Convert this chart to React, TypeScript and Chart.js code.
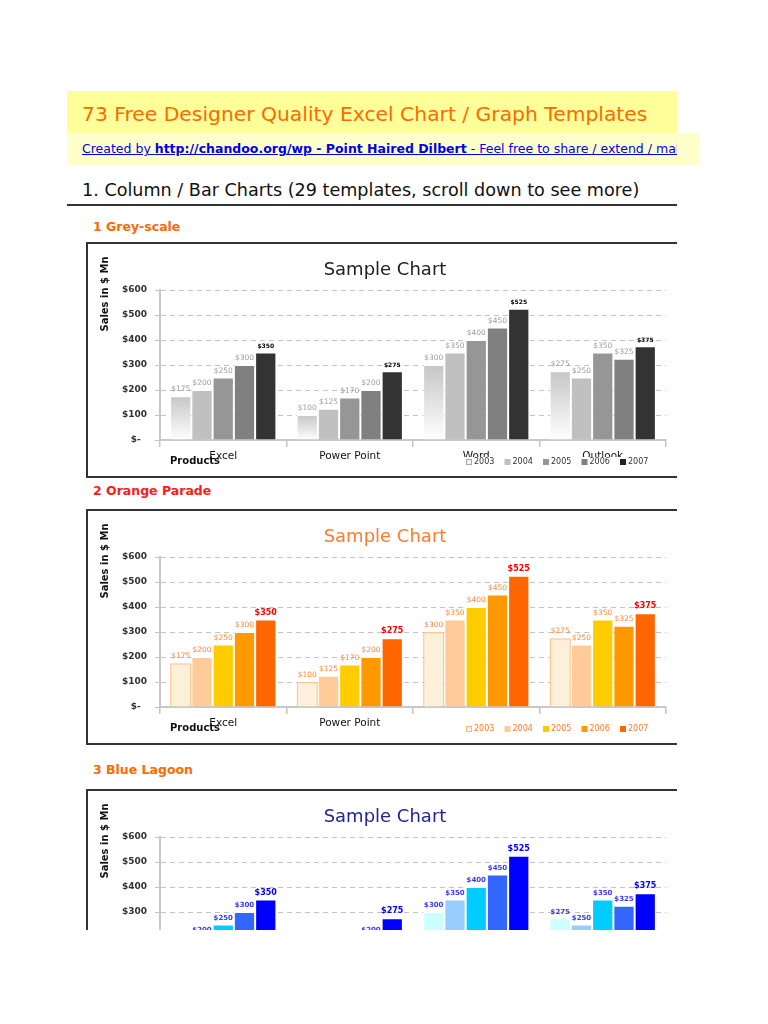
import React, { useEffect, useRef } from "react";
import { Chart, registerables } from "chart.js";

Chart.register(...registerables);

const FONT = "'DejaVu Sans', Verdana, sans-serif";

// ---- data ----
const products = ["Excel", "Power Point", "Word", "Outlook"];
const years = ["2003", "2004", "2005", "2006", "2007"];
const sales2003 = [175, 100, 300, 275];
const sales2004 = [200, 125, 350, 250];
const sales2005 = [250, 170, 400, 350];
const sales2006 = [300, 200, 450, 325];
const sales2007 = [350, 275, 525, 375];
const seriesValues = [sales2003, sales2004, sales2005, sales2006, sales2007];
const yTickValues = [0, 100, 200, 300, 400, 500, 600];
const yTickLabels = ["$-  ", "$100", "$200", "$300", "$400", "$500", "$600"];
const chartTitle = "Sample Chart";
const yAxisTitle = "Sales in $ Mn";
const xAxisTitle = "Products";

// ---- styles ----
type Theme = {
  titleColor: string;
  fills: string[];
  borders: string[];
  borderWidths: number[];
  labelColors: string[];
  labelFont: string;
  lastLabelFont: string;
  legendText: string;
  markerFill: string[];
  markerStroke: (string | null)[];
  legendBoxTop: number;
};

const greyTheme: Theme = {
  titleColor: "#222222",
  fills: ["gradient", "#c0c0c0", "#969696", "#808080", "#333333"],
  borders: ["#ffffff", "#ffffff", "#ffffff", "#ffffff", "#ffffff"],
  borderWidths: [1, 1, 1, 1, 1],
  labelColors: ["#9c9c9c", "#9c9c9c", "#9c9c9c", "#9c9c9c", "#000000"],
  labelFont: `7.5px ${FONT}`,
  lastLabelFont: `bold 6px ${FONT}`,
  legendText: "#333333",
  markerFill: ["#f2f2f2", "#c0c0c0", "#969696", "#808080", "#222222"],
  markerStroke: ["#a8a8a8", null, null, null, null],
  legendBoxTop: 213,
};

const orangeTheme: Theme = {
  titleColor: "#ff7b2e",
  fills: ["#fdf0da", "#ffcc99", "#ffcc00", "#ff9900", "#ff6600"],
  borders: ["#fcc68c", "#ffffff", "#ffffff", "#ffffff", "#ffffff"],
  borderWidths: [1.5, 1, 1, 1, 1],
  labelColors: ["#ff8a3d", "#ff8a3d", "#ff8a3d", "#ff8a3d", "#ff0000"],
  labelFont: `7.5px ${FONT}`,
  lastLabelFont: `bold 8px ${FONT}`,
  legendText: "#ff7b2e",
  markerFill: ["#fff8ee", "#ffcc99", "#ffcc00", "#ff9900", "#ff6600"],
  markerStroke: ["#ffb56b", null, null, null, null],
  legendBoxTop: 204,
};

const blueTheme: Theme = {
  titleColor: "#242494",
  fills: ["#ccffff", "#99ccff", "#00ccff", "#3366ff", "#0000ff"],
  borders: ["#ffffff", "#ffffff", "#ffffff", "#ffffff", "#ffffff"],
  borderWidths: [1, 1, 1, 1, 1],
  labelColors: ["#3a3aff", "#3a3aff", "#3a3aff", "#3a3aff", "#0000ff"],
  labelFont: `bold 7px ${FONT}`,
  lastLabelFont: `bold 8px ${FONT}`,
  legendText: "#2424c0",
  markerFill: ["#ccffff", "#99ccff", "#00ccff", "#3366ff", "#0000ff"],
  markerStroke: ["#99dddd", null, null, null, null],
  legendBoxTop: 204,
};

const CANVAS_W = 600;
const CANVAS_H = 232;

function makePlugin(theme: Theme) {
  return {
    id: "decor",
    afterDatasetsDraw(chart: any) {
      const ctx = chart.ctx;
      chart.data.datasets.forEach((ds: any, i: number) => {
        const meta = chart.getDatasetMeta(i);
        const last = i === chart.data.datasets.length - 1;
        ctx.save();
        ctx.font = last ? theme.lastLabelFont : theme.labelFont;
        ctx.fillStyle = theme.labelColors[i];
        ctx.textAlign = "center";
        ctx.textBaseline = "bottom";
        meta.data.forEach((bar: any, j: number) => {
          ctx.fillText("$" + ds.data[j], bar.x, bar.y - 3);
        });
        ctx.restore();
      });
    },
    afterDraw(chart: any) {
      const ctx = chart.ctx;
      ctx.save();
      // y axis title
      ctx.translate(17, 50);
      ctx.rotate(-Math.PI / 2);
      ctx.font = `bold 10px ${FONT}`;
      ctx.fillStyle = "#111111";
      ctx.textAlign = "center";
      ctx.textBaseline = "middle";
      ctx.fillText(yAxisTitle, 0, 0);
      ctx.restore();

      // x axis title
      ctx.save();
      ctx.font = `bold 10px ${FONT}`;
      ctx.fillStyle = "#111111";
      ctx.textAlign = "left";
      ctx.textBaseline = "middle";
      ctx.fillText(xAxisTitle, 82, 217);
      ctx.restore();

      // legend
      ctx.save();
      ctx.fillStyle = "#ffffff";
      ctx.fillRect(368, theme.legendBoxTop, 215, CANVAS_H - theme.legendBoxTop - 1);
      const ly = 218;
      chart.data.datasets.forEach((ds: any, i: number) => {
        const mx = 378 + i * 38.5;
        ctx.fillStyle = theme.markerFill[i];
        ctx.fillRect(mx, ly - 3, 6, 6);
        const st = theme.markerStroke[i];
        if (st) {
          ctx.strokeStyle = st;
          ctx.lineWidth = 1;
          ctx.strokeRect(mx + 0.5, ly - 2.5, 5, 5);
        }
        ctx.font = `8px ${FONT}`;
        ctx.fillStyle = theme.legendText;
        ctx.textAlign = "left";
        ctx.textBaseline = "middle";
        ctx.fillText(ds.label, mx + 8, ly);
      });
      ctx.restore();
    },
  };
}

function SampleChart({ theme }: { theme: Theme }) {
  const ref = useRef<HTMLCanvasElement | null>(null);
  useEffect(() => {
    if (!ref.current) return;
    const datasets = years.map((yr, i) => ({
      label: yr,
      data: seriesValues[i],
      backgroundColor:
        theme.fills[i] === "gradient"
          ? (c: any) => {
              const chart = c.chart;
              if (!chart.chartArea || c.dataIndex === undefined) return "#e0e0e0";
              const ys = chart.scales.y;
              const v = c.dataset.data[c.dataIndex];
              const top = ys.getPixelForValue(v);
              const bottom = ys.getPixelForValue(0);
              const g = chart.ctx.createLinearGradient(0, top, 0, bottom);
              g.addColorStop(0, "#c6c6c6");
              g.addColorStop(1, "#ffffff");
              return g;
            }
          : theme.fills[i],
      borderColor: theme.borders[i],
      borderWidth: theme.borderWidths[i],
      categoryPercentage: 0.84,
      barPercentage: 1,
    }));
    const chart = new Chart(ref.current, {
      type: "bar",
      data: { labels: products, datasets },
      options: {
        responsive: false,
        animation: false,
        devicePixelRatio: 1,
        layout: { padding: { left: 16, right: 22, top: 0, bottom: 0 } },
        plugins: {
          legend: { display: false },
          tooltip: { enabled: false },
          title: {
            display: true,
            text: chartTitle,
            color: theme.titleColor,
            font: { family: FONT, size: 18, weight: "normal" },
            padding: { top: 16, bottom: 8.4 },
          },
        },
        scales: {
          x: {
            afterFit: (s: any) => {
              s.height = 36;
            },
            ticks: {
              font: { family: FONT, size: 10.5 },
              color: "#111111",
              padding: 3,
              maxRotation: 0,
              autoSkip: false,
            },
            grid: {
              display: true,
              drawOnChartArea: false,
              offset: true,
              tickLength: 7,
              color: "#c4c4c4",
              lineWidth: 1.5,
            },
            border: { display: true, color: "#c8c8c8", width: 2 },
          },
          y: {
            min: 0,
            max: 600,
            afterFit: (s: any) => {
              s.width = 56;
            },
            afterBuildTicks: (s: any) => {
              s.ticks = yTickValues.map((v) => ({ value: v }));
            },
            ticks: {
              callback: (_v: any, i: number) => yTickLabels[i],
              font: { family: FONT, size: 9, weight: "bold" },
              color: "#333333",
              padding: 8,
            },
            grid: {
              color: "#c4c4c4",
              lineWidth: 1,
              tickLength: 5,
              tickColor: "#c4c4c4",
            },
            border: { display: true, color: "#c8c8c8", width: 2, dash: [5, 4] },
          },
        },
      } as any,
      plugins: [makePlugin(theme) as any],
    });
    return () => chart.destroy();
  }, [theme]);
  return <canvas ref={ref} width={CANVAS_W} height={CANVAS_H} style={{ display: "block" }} />;
}

function ChartBox({ top, clipHeight, theme }: { top: number; clipHeight: number; theme: Theme }) {
  return (
    <div
      style={{
        position: "absolute",
        left: 86,
        top,
        width: 677 - 86,
        height: clipHeight,
        overflow: "hidden",
      }}
    >
      <div
        style={{
          position: "absolute",
          left: 0,
          top: 0,
          width: 660,
          height: 236,
          boxSizing: "border-box",
          border: "2px solid #333333",
          background: "#ffffff",
        }}
      >
        <SampleChart theme={theme} />
      </div>
    </div>
  );
}

function SectionLabel({ top, text, color }: { top: number; text: string; color: string }) {
  return (
    <div
      style={{
        position: "absolute",
        left: 93,
        top,
        fontFamily: FONT,
        fontWeight: "bold",
        fontSize: 12.5,
        lineHeight: "14px",
        color,
        whiteSpace: "nowrap",
      }}
    >
      {text}
    </div>
  );
}

export default function App() {
  return (
    <div
      style={{
        position: "fixed",
        left: 0,
        top: 0,
        width: 768,
        height: 1024,
        overflow: "hidden",
        background: "#ffffff",
        fontFamily: FONT,
      }}
    >
      <div style={{ position: "absolute", left: 67, top: 91, width: 610, height: 42, background: "#ffff99" }} />
      <div
        style={{
          position: "absolute",
          left: 82,
          top: 102,
          fontSize: 20.3,
          lineHeight: "24px",
          color: "#ff6a00",
          whiteSpace: "nowrap",
        }}
      >
        73 Free Designer Quality Excel Chart / Graph Templates
      </div>
      <div style={{ position: "absolute", left: 67, top: 133, width: 633, height: 32, background: "#ffffcc" }} />
      <div
        style={{
          position: "absolute",
          left: 82,
          top: 141,
          width: 677 - 82,
          overflow: "hidden",
          fontSize: 12.5,
          lineHeight: "16px",
          color: "#0000ee",
          whiteSpace: "nowrap",
          textDecoration: "underline",
        }}
      >
        Created by <b>http://chandoo.org/wp - Point Haired Dilbert</b> - Feel free to share / extend / make derivatives
      </div>
      <div
        style={{
          position: "absolute",
          left: 82,
          top: 179,
          fontSize: 17.6,
          lineHeight: "22px",
          color: "#111111",
          whiteSpace: "nowrap",
        }}
      >
        1. Column / Bar Charts (29 templates, scroll down to see more)
      </div>
      <div style={{ position: "absolute", left: 67, top: 204, width: 610, height: 2, background: "#333333" }} />

      <SectionLabel top={220} text="1 Grey-scale" color="#ff6a00" />
      <ChartBox top={242} clipHeight={236} theme={greyTheme} />

      <SectionLabel top={484} text="2 Orange Parade" color="#ff1a1a" />
      <ChartBox top={509} clipHeight={236} theme={orangeTheme} />

      <SectionLabel top={763} text="3 Blue Lagoon" color="#ff6a00" />
      <ChartBox top={789} clipHeight={141} theme={blueTheme} />
    </div>
  );
}
